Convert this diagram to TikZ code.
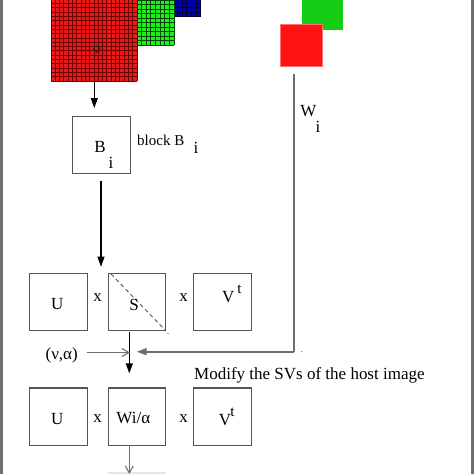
\documentclass[tikz,border=0pt]{standalone}
\usepackage{fontspec}
\setmainfont{Liberation Serif}
\usetikzlibrary{arrows.meta}
\definecolor{redcell}{RGB}{235,25,25}
\definecolor{redline}{RGB}{110,0,0}
\definecolor{greencell}{RGB}{30,240,30}
\definecolor{greenline}{RGB}{0,70,0}
\definecolor{bluecell}{RGB}{0,0,170}
\definecolor{blueline}{RGB}{0,0,55}
\definecolor{wgreen}{RGB}{22,205,22}
\definecolor{wred}{RGB}{255,18,18}
\definecolor{boxgray}{RGB}{85,85,85}
\definecolor{linegray}{RGB}{110,110,110}
\tikzset{
  mat/.style={draw=boxgray, line width=1.1pt, minimum width=57.5pt, minimum height=57.5pt, inner sep=0pt},
  lbl/.style={inner sep=0pt, font=\fontsize{17}{20}\selectfont},
  sml/.style={inner sep=0pt, font=\fontsize{15}{18}\selectfont},
  arr/.style={line width=1.1pt, -{Triangle[length=10pt,width=7pt]}},
  openarr/.style={draw=linegray, line width=1.1pt, -{Straight Barb[length=7pt,width=8pt]}},
  wline/.style={draw=linegray, line width=1.6pt},
  gl/.style={line width=0.9pt},
}
\begin{document}
\begin{tikzpicture}[x=1pt,y=-1pt]
\useasboundingbox (0,0) rectangle (474,474);
\clip (0,0) rectangle (474,474);
% page borders
\draw[linegray, line width=2.4pt] (1.5,0) -- (1.5,474);
\draw[linegray, line width=2.4pt] (472.5,0) -- (472.5,474);
% blue block
\fill[bluecell] (172.7,0) rectangle (201,16.7);
\foreach \i in {0,...,6} \draw[blueline, gl] (172.7+\i*4.7,0) -- (172.7+\i*4.7,16.7);
\foreach \j in {0,...,4} \draw[blueline, gl] (172.7,16.7-\j*4.5) -- (201,16.7-\j*4.5);
% green block
\fill[greencell] (136.7,0) rectangle (174.3,45);
\foreach \i in {0,...,8} \draw[greenline, gl] (136.7+\i*4.7,0) -- (136.7+\i*4.7,45);
\foreach \j in {0,...,10} \draw[greenline, gl] (136.7,45-\j*4.5) -- (174.3,45-\j*4.5);
% red block
\fill[redcell] (51,0) rectangle (137,81);
\foreach \i in {0,...,20} \draw[redline, gl] (51+\i*4.3,0) -- (51+\i*4.3,81);
\foreach \j in {0,...,19} \draw[redline, gl] (51,81-\j*4.3) -- (137,81-\j*4.3);
\draw[black!85, line width=1.2pt] (96.7,49) circle (3pt);
\coordinate (redbot) at (94.3,81);
% watermark squares
\fill[wgreen] (301.7,0) rectangle (343.3,30);
\draw[wred!60!white, line width=0.6pt, fill=wred] (280,24) rectangle (322,66);
\coordinate (wtop) at (294,74);
\coordinate (wcorner) at (294,351.7);
\node[lbl] (wlab) at (308.5,111.5) {W};
\node[lbl] (wsub) at (318,126.5) {i};
% block Bi
\node[mat] (Bi) at (101.3,145) {};
\node[lbl] (Bl) at (100,146.5) {B};
\node[lbl] (Bs) at (111,163) {i};
\node[sml, anchor=west] (blk) at (137,140) {block B};
\node[lbl] (blks) at (196,148.3) {i};
\draw[arr] (redbot) -- ++(0,27);
\coordinate (bistart) at (101,181);
\coordinate (biend) at (101,266.7);
\draw[arr] (bistart) -- (biend);
% row 1
\node[mat] (U1) at (58.3,302) {};
\node[lbl] at (57.3,304) {U};
\node[lbl] (x1) at (97.7,297.3) {x};
\node[mat] (S1) at (137,302) {};
\draw[boxgray, line width=0.9pt, dash pattern=on 4pt off 3pt] (111,274) -- (165.7,330.7);
\fill[boxgray] (168,333.5) circle (0.7pt);
\node[lbl] at (134,305) {S};
\node[lbl] (x2) at (183.7,297.3) {x};
\node[mat] (V1) at (222.3,302) {};
\node[lbl] at (228.3,297) {V};
\node[sml] at (239.5,289.5) {t};
% modification arrows
\coordinate (sdown) at (129.3,331.5);
\coordinate (sdownend) at (129.3,373.3);
\draw[arr] (sdown) -- (sdownend);
\node[lbl] (nual) at (61.7,355) {(ν,α)};
\coordinate (nustart) at (86.7,352.5);
\coordinate (nuend) at (130,352.5);
\draw[openarr] (nustart) -- (nuend);
\coordinate (wend) at (136.7,351.7);
\draw[wline] (wtop) -- (wcorner);
\draw[wline, -{Triangle[length=10pt,width=7pt]}] (wcorner) -- (wend);
\fill[boxgray] (301.7,351.7) circle (0.6pt);
\node[lbl, anchor=west] (mod) at (194,375.7) {Modify the SVs of the host image};
% row 2
\node[mat] (U2) at (58.3,416.7) {};
\node[lbl] at (57.3,419) {U};
\node[lbl] at (97.7,419) {x};
\node[mat] (S2) at (137,416.7) {};
\node[lbl] at (133.3,418.3) {Wi/α};
\node[lbl] at (183.7,419) {x};
\node[mat] (V2) at (222.3,416.7) {};
\node[lbl] at (225,420) {V};
\node[sml] at (232.5,412.5) {t};
% bottom
\node[mat, draw=none, fill=black!10] (R) at (137,500.5) {};
\coordinate (botstart) at (129.3,445.4);
\draw[openarr] (botstart) -- (129.3,474);
\end{tikzpicture}
\end{document}
